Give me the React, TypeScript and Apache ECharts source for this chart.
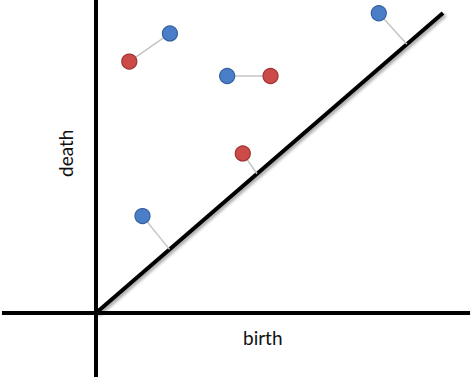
import React, { useEffect, useRef } from "react";
import * as echarts from "echarts";

// Persistence diagram data (birth, death)
const bluePoints: number[][] = [[21.3, 93.2], [37.8, 79], [81.5, 99.9], [13.4, 32.3]];
const redPoints: number[][] = [[9.6, 83.8], [50.3, 79], [42.3, 53.2]];
const pairLinks: number[][][] = [
  [[21.3, 93.2], [9.6, 83.8]],
  [[37.8, 79], [50.3, 79]],
];
const diagonalLinks: number[][][] = [
  [[81.5, 99.9], [89.6, 89.6]],
  [[42.3, 53.2], [46.4, 46.4]],
  [[13.4, 32.3], [21.2, 21.2]],
];
const diagonal: number[][] = [[0, 0], [100, 100]];
const birthAxisLine: number[][] = [[-27.1, 0], [107.8, 0]];
const deathAxisLine: number[][] = [[0, -21.3], [0, 104.3]];
const axisLabels = { x: "birth", y: "death" };

export default function App() {
  const ref = useRef<HTMLDivElement>(null);
  useEffect(() => {
    document.body.style.margin = "0";
    const chart = echarts.init(ref.current!, undefined, { renderer: "svg" });
    const thick = { color: "#000", width: 4 };
    const linkStyle = { color: "#c4c4c4", width: 1.5 };
    const series: any[] = [
      { type: "line", data: birthAxisLine, symbol: "none", lineStyle: thick, z: 1 },
      { type: "line", data: deathAxisLine, symbol: "none", lineStyle: thick, z: 1 },
      {
        type: "line", data: diagonal, symbol: "none", z: 2,
        lineStyle: { ...thick, shadowColor: "rgba(0,0,0,0.35)", shadowBlur: 3, shadowOffsetX: 2, shadowOffsetY: 2 },
      },
      ...pairLinks.map((d) => ({ type: "line", data: d, symbol: "none", lineStyle: linkStyle, z: 3 })),
      ...diagonalLinks.map((d) => ({ type: "line", data: d, symbol: "none", lineStyle: linkStyle, z: 3 })),
      {
        type: "scatter", data: bluePoints, symbolSize: 15, z: 5,
        itemStyle: { color: "#4a7ec8", borderColor: "#35609e", borderWidth: 1.2, opacity: 1 },
      },
      {
        type: "scatter", data: redPoints, symbolSize: 15, z: 5,
        itemStyle: { color: "#cc4a48", borderColor: "#9e3432", borderWidth: 1.2, opacity: 1 },
      },
    ];
    chart.setOption({
      animation: false,
      backgroundColor: "#fff",
      grid: { left: 0, right: 0, top: 0, bottom: 0 },
      xAxis: { type: "value", min: -27.665, max: 108.934, show: false },
      yAxis: { type: "value", min: -22.333, max: 104.333, show: false },
      series,
      graphic: [
        {
          type: "text", left: 243, top: 328,
          style: { text: axisLabels.x, font: "19px Lato", fill: "#111" },
        },
        {
          type: "text", x: 56, y: 177, rotation: Math.PI / 2,
          style: { text: axisLabels.y, font: "19px Lato", fill: "#111" },
        },
      ],
    });
    return () => chart.dispose();
  }, []);
  return <div ref={ref} style={{ width: 474, height: 380 }} />;
}
